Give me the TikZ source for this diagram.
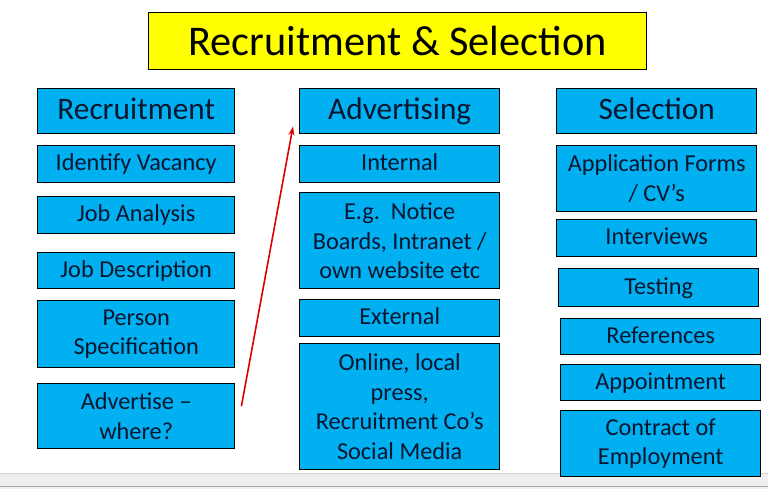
\documentclass[tikz,border=0pt]{standalone}
\usepackage{fontspec}
\setmainfont{Carlito}
\usetikzlibrary{arrows.meta}
\definecolor{boxblue}{HTML}{00B0F0}
\definecolor{txtnavy}{HTML}{0A1630}
\definecolor{titleyellow}{HTML}{FFFF00}
\definecolor{barfill}{HTML}{EEEEEE}
\definecolor{barline}{HTML}{D4D4D4}
\tikzset{
  box/.style={draw=black, line width=1.4pt, fill=boxblue, text=txtnavy, anchor=north west,
    align=center, inner sep=1pt, font=\fontsize{24.3}{29.5}\selectfont},
  oneline/.style={box, execute at begin node={\vphantom{Ay}}},
  headbox/.style={box, font=\fontsize{31.3}{36}\selectfont, execute at begin node={\vphantom{Ay}}},
  titlebox/.style={draw=black, line width=1.4pt, fill=titleyellow, text=black, anchor=north west,
    align=center, inner sep=1pt, font=\fontsize{42.3}{48}\selectfont},
  redarrow/.style={draw=red!88!black, line width=1.6pt, -{Stealth[length=9pt,width=6pt]}}
}
\begin{document}
\begin{tikzpicture}[x=1pt,y=-1pt]
\useasboundingbox (0,0) rectangle (768,489);
\fill[white] (0,0) rectangle (768,489);
% bottom bar
\fill[barfill] (0,473) rectangle (768,489);
\draw[barline, line width=1pt] (0,473) -- (768,473);
\draw[barline!80!black, line width=0.8pt] (0,486) -- (768,486);
% title
\node[titlebox, minimum width=498pt, minimum height=57pt] (title) at (148,12) {Recruitment \& Selection};
% left column
\node[headbox, minimum width=197pt, minimum height=45pt] (rec) at (37,88) {Recruitment};
\node[oneline, minimum width=197pt, minimum height=37pt] (idv) at (37,145) {Identify Vacancy};
\node[oneline, minimum width=197pt, minimum height=37pt] (jan) at (37,196) {Job Analysis};
\node[oneline, minimum width=197pt, minimum height=36pt] (jde) at (37,252) {Job Description};
\node[box, minimum width=197pt, minimum height=67pt] (psp) at (37,300) {Person\\Specification};
\node[box, minimum width=197pt, minimum height=65pt] (adw) at (37,383) {Advertise –\\where?};
% middle column
\node[headbox, minimum width=200pt, minimum height=45pt] (adt) at (299,88) {Advertising};
\node[oneline, minimum width=200pt, minimum height=37pt] (int) at (299,145) {Internal};
\node[box, minimum width=200pt, minimum height=96pt] (egn) at (299,192) {E.g.\ \ Notice\\Boards, Intranet /\\own website etc};
\node[oneline, minimum width=200pt, minimum height=37pt] (ext) at (299,299) {External};
\node[box, minimum width=200pt, minimum height=126pt] (onl) at (299,343) {Online, local\\press,\\Recruitment Co’s\\Social Media};
% right column
\node[headbox, minimum width=200pt, minimum height=45pt] (sel) at (556,88) {Selection};
\node[box, minimum width=200pt, minimum height=66pt] (app) at (556,145) {Application Forms\\/ CV’s};
\node[oneline, minimum width=200pt, minimum height=37pt] (itv) at (556,219) {Interviews};
\node[oneline, minimum width=200pt, minimum height=38pt] (tst) at (558,268) {Testing};
\node[oneline, minimum width=200pt, minimum height=36pt] (ref) at (560,318) {References};
\node[oneline, minimum width=200pt, minimum height=36pt] (apt) at (560,364) {Appointment};
\node[box, minimum width=200pt, minimum height=66pt] (con) at (560,410) {Contract of\\Employment};
% arrow
\draw[redarrow] ([xshift=6pt,yshift=10pt]adw.east) -- ([xshift=-6pt,yshift=8pt]adt.south west);
\end{tikzpicture}
\end{document}
